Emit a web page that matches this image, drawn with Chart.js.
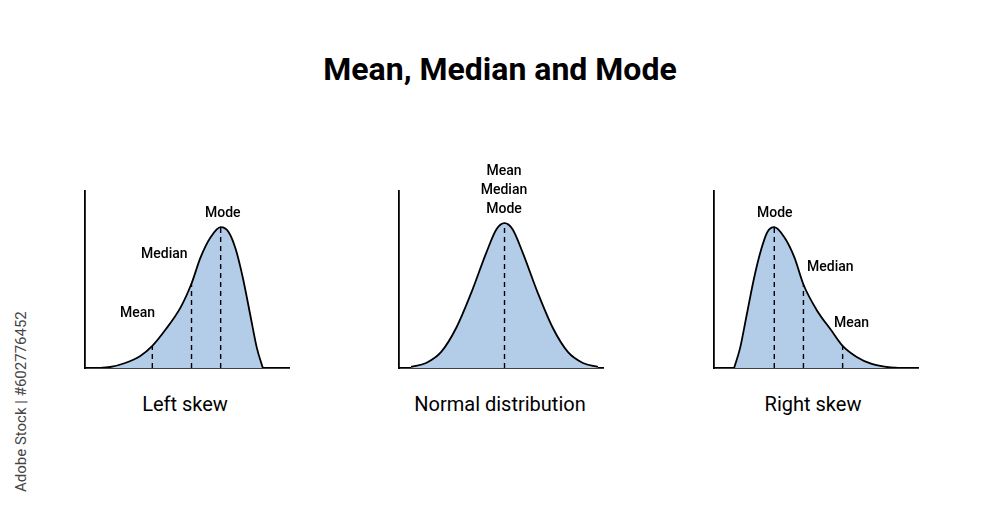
<!DOCTYPE html><html><head><meta charset="utf-8">
<script src="https://cdn.jsdelivr.net/npm/chart.js@4"></script>
<style>
body{margin:0;width:1000px;height:505px;background:#fff;font-family:Roboto,"Open Sans",sans-serif;position:relative;overflow:hidden}
.t{position:absolute;color:#000;white-space:nowrap}
.s{font-size:14px;font-weight:500}
.b{font-size:20px;font-weight:400;text-align:center;top:392px}
.c{position:absolute;width:214px;height:187px;top:190px}
</style></head><body>
<div class="t" style="left:0;width:1000px;text-align:center;top:50px;font-size:32px;font-weight:bold">Mean, Median and Mode</div>
<div class="t" style="left:12px;transform:rotate(-90deg);transform-origin:left top;font-size:15px;color:#444;top:492px">Adobe Stock | #602776452</div>
<div class="c" style="left:76px"><canvas id="c0"></canvas></div>
<div class="c" style="left:390px"><canvas id="c1"></canvas></div>
<div class="c" style="left:705px"><canvas id="c2"></canvas></div>
<div class="t s" style="left:205px;top:204px">Mode</div>
<div class="t s" style="left:141px;top:245px">Median</div>
<div class="t s" style="left:120px;top:304px">Mean</div>
<div class="t s" style="left:478px;top:161px;width:52px;text-align:center;line-height:19px">Mean<br>Median<br>Mode</div>
<div class="t s" style="left:757px;top:204px">Mode</div>
<div class="t s" style="left:807px;top:258px">Median</div>
<div class="t s" style="left:834px;top:314px">Mean</div>
<div class="t b" style="left:85px;width:200px">Left skew</div>
<div class="t b" style="left:385px;width:230px">Normal distribution</div>
<div class="t b" style="left:713px;width:200px">Right skew</div>
<script>
const leftX=[10,25,40,55,67,80,95,106,115,125,135,143,150,157,165,171,177];
const leftY=[0,1,5,12,22,38,60,84,110,130,140,135,118,90,50,20,0];
const leftMarks=[[67,22],[106,84],[135,140]];
const normX=[12,27,42,57,72,87,97,105,113,123,138,153,168,183,198];
const normY=[1,5,16,40,75,115,138,144,138,115,75,40,16,5,1];
const normMarks=[[105,144]];
const rightX=[20,26,32,40,47,53,60,70,80,89,102,117,128,142,157,172,185];
const rightY=[0,20,50,90,118,135,140,130,110,83,58,37,22,11,4,1,0];
const rightMarks=[[60,140],[89,83],[128,22]];
function make(id,xs,ys,marks){
  const ds=[{order:2,data:xs.map((x,i)=>({x,y:ys[i]})),borderColor:'#000',borderWidth:1.8,backgroundColor:'#b3cde9',fill:'origin',cubicInterpolationMode:'monotone',pointRadius:0}];
  marks.forEach(m=>ds.push({order:1,data:[{x:m[0],y:0},{x:m[0],y:m[1]}],borderColor:'#000',borderWidth:1.4,borderDash:[5,4],pointRadius:0,fill:false}));
  new Chart(document.getElementById(id),{type:'line',data:{datasets:ds},options:{responsive:true,maintainAspectRatio:false,animation:false,
    layout:{padding:{left:1,right:0,top:0,bottom:1}},
    plugins:{legend:{display:false},tooltip:{enabled:false}},
    scales:{x:{type:'linear',min:0,max:204,ticks:{display:false},grid:{display:false},border:{color:'#000',width:1.8}},
            y:{min:0,max:177,ticks:{display:false},grid:{display:false},border:{color:'#000',width:1.8}}}}});
}
make('c0',leftX,leftY,leftMarks);make('c1',normX,normY,normMarks);make('c2',rightX,rightY,rightMarks);
</script></body></html>
